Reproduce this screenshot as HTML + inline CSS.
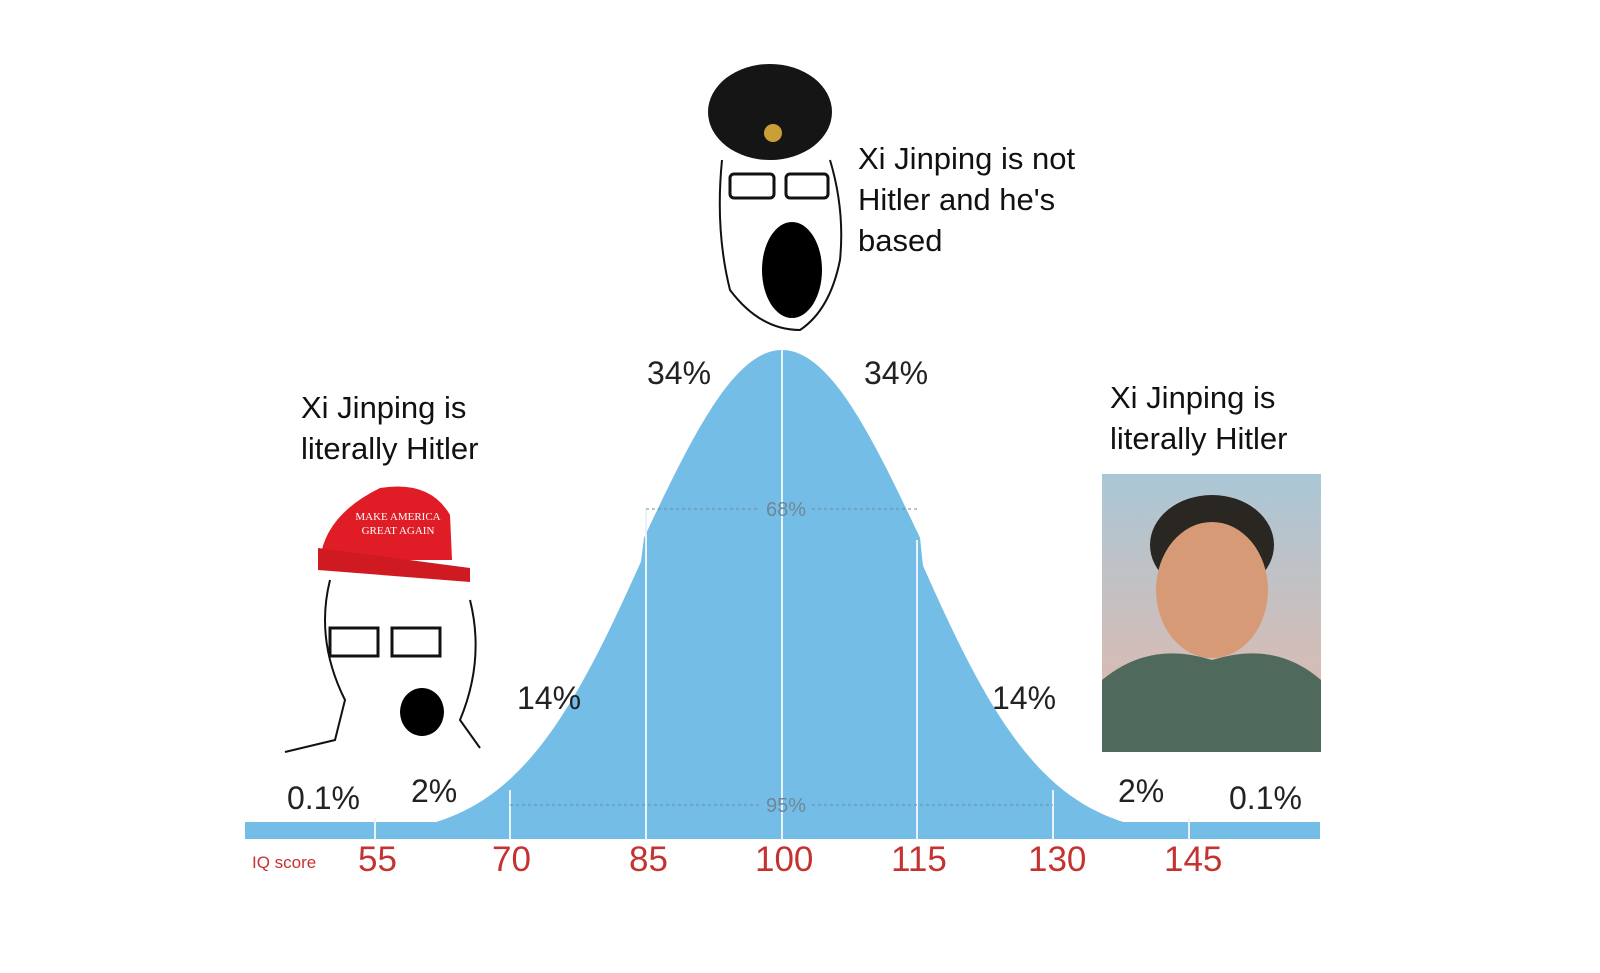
<!DOCTYPE html>
<html><head><meta charset="utf-8"><style>
html,body{margin:0;padding:0;background:#fff;}
body{width:1600px;height:973px;position:relative;overflow:hidden;font-family:"Liberation Sans",sans-serif;}
.t{position:absolute;font-size:31px;color:#111;line-height:41px;}
.p{position:absolute;font-size:32px;color:#222;}
.r{position:absolute;font-size:35px;color:#c4332f;top:840px;}
</style></head><body>
<svg width="1600" height="973" style="position:absolute;left:0;top:0">
<path id="curve" fill="#74bde6" d=""/>
<rect x="245" y="822" width="1075" height="17" fill="#74bde6"/>
<g stroke="#e8f3fa" stroke-width="2">
<line x1="375" y1="818" x2="375" y2="840"/>
<line x1="510" y1="790" x2="510" y2="840"/>
<line x1="646" y1="510" x2="646" y2="840"/>
<line x1="782" y1="350" x2="782" y2="840"/>
<line x1="917" y1="540" x2="917" y2="840"/>
<line x1="1053" y1="790" x2="1053" y2="840"/>
<line x1="1189" y1="818" x2="1189" y2="840"/>
</g>
<g stroke="#6a8aa0" stroke-width="1" stroke-dasharray="3,3">
<line x1="646" y1="509" x2="760" y2="509"/><line x1="812" y1="509" x2="917" y2="509"/>
<line x1="510" y1="805" x2="760" y2="805"/><line x1="812" y1="805" x2="1053" y2="805"/>
</g>
<text x="786" y="516" font-size="20" fill="#6f8798" text-anchor="middle" font-family="Liberation Sans">68%</text>
<text x="786" y="812" font-size="20" fill="#6f8798" text-anchor="middle" font-family="Liberation Sans">95%</text>
<defs><linearGradient id="bg" x1="0" y1="0" x2="0" y2="1"><stop offset="0" stop-color="#aac7d6"/><stop offset="1" stop-color="#e7b8a8"/></linearGradient></defs>
<rect x="1102" y="474" width="219" height="278" fill="url(#bg)"/>
<ellipse cx="1212" cy="545" rx="62" ry="50" fill="#2a2622"/>
<ellipse cx="1212" cy="590" rx="56" ry="68" fill="#d69a76"/>
<path d="M1102 680 Q1150 640 1212 660 Q1275 640 1321 680 L1321 752 L1102 752Z" fill="#4f6a5c"/>
<path d="M320 560 Q325 515 380 488 Q430 480 450 515 L452 560Z" fill="#e01d26"/>
<path d="M318 548 L470 568 L470 582 L318 570Z" fill="#d01a22"/>
<text x="398" y="520" font-size="11" fill="#fff" text-anchor="middle" font-family="Liberation Serif">MAKE AMERICA</text>
<text x="398" y="534" font-size="11" fill="#fff" text-anchor="middle" font-family="Liberation Serif">GREAT AGAIN</text>
<path d="M330 580 Q315 640 345 700 L335 740 L285 752 M470 600 Q485 660 460 720 L480 748" fill="none" stroke="#111" stroke-width="2"/>
<rect x="330" y="628" width="48" height="28" fill="none" stroke="#111" stroke-width="3"/>
<rect x="392" y="628" width="48" height="28" fill="none" stroke="#111" stroke-width="3"/>
<ellipse cx="422" cy="712" rx="22" ry="24" fill="#000"/>
<ellipse cx="770" cy="112" rx="62" ry="48" fill="#151515"/>
<circle cx="773" cy="133" r="9" fill="#c9a035"/>
<path d="M722 160 Q715 230 730 290 Q760 330 800 330 Q830 310 840 260 Q845 210 830 160" fill="none" stroke="#111" stroke-width="2"/>
<rect x="730" y="174" width="44" height="24" rx="4" fill="none" stroke="#111" stroke-width="3"/>
<rect x="786" y="174" width="42" height="24" rx="4" fill="none" stroke="#111" stroke-width="3"/>
<ellipse cx="792" cy="270" rx="30" ry="48" fill="#000"/>
</svg>
<div class="t" style="left:858px;top:138px">Xi Jinping is not<br>Hitler and he's<br>based</div>
<div class="t" style="left:301px;top:387px">Xi Jinping is<br>literally Hitler</div>
<div class="t" style="left:1110px;top:377px">Xi Jinping is<br>literally Hitler</div>
<div class="p" style="left:647px;top:355px">34%</div>
<div class="p" style="left:864px;top:355px">34%</div>
<div class="p" style="left:517px;top:680px">14%</div>
<div class="p" style="left:992px;top:680px">14%</div>
<div class="p" style="left:287px;top:780px">0.1%</div>
<div class="p" style="left:411px;top:773px">2%</div>
<div class="p" style="left:1118px;top:773px">2%</div>
<div class="p" style="left:1229px;top:780px">0.1%</div>
<div style="position:absolute;left:252px;top:853px;font-size:17px;color:#c4332f">IQ score</div>
<div class="r" style="left:358px">55</div>
<div class="r" style="left:492px">70</div>
<div class="r" style="left:629px">85</div>
<div class="r" style="left:755px">100</div>
<div class="r" style="left:891px">115</div>
<div class="r" style="left:1028px">130</div>
<div class="r" style="left:1164px">145</div>
<script>
var d="M245 838";
for(var x=245;x<=1320;x+=3){var z=(x-782)/140;var k=(z>1?1.15:(z<-1?1.12:1));var y=838-488*Math.exp(-0.5*z*z*k);d+=" L"+x+" "+y.toFixed(1);}
d+=" L1320 838Z";document.getElementById("curve").setAttribute("d",d);
</script>
</body></html>
